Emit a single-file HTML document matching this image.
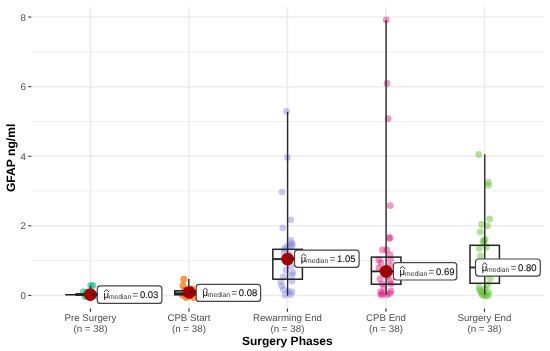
<!DOCTYPE html><html><head><meta charset="utf-8"><style>html,body{margin:0;padding:0;background:#fff;}svg{display:block;will-change:transform;}text{font-family:"Liberation Sans",sans-serif;text-rendering:geometricPrecision;}</style></head><body>
<svg width="550" height="351" viewBox="0 0 550 351">
<rect width="550" height="351" fill="#fff"/>
<line x1="31.5" x2="544.0" y1="260.61" y2="260.61" stroke="#F0F0F0" stroke-width="1.1"/>
<line x1="31.5" x2="544.0" y1="191.03" y2="191.03" stroke="#F0F0F0" stroke-width="1.1"/>
<line x1="31.5" x2="544.0" y1="121.45" y2="121.45" stroke="#F0F0F0" stroke-width="1.1"/>
<line x1="31.5" x2="544.0" y1="51.87" y2="51.87" stroke="#F0F0F0" stroke-width="1.1"/>
<line x1="31.5" x2="544.0" y1="295.40" y2="295.40" stroke="#ECECEC" stroke-width="1.5"/>
<line x1="31.5" x2="544.0" y1="225.82" y2="225.82" stroke="#ECECEC" stroke-width="1.5"/>
<line x1="31.5" x2="544.0" y1="156.24" y2="156.24" stroke="#ECECEC" stroke-width="1.5"/>
<line x1="31.5" x2="544.0" y1="86.66" y2="86.66" stroke="#ECECEC" stroke-width="1.5"/>
<line x1="31.5" x2="544.0" y1="17.08" y2="17.08" stroke="#ECECEC" stroke-width="1.5"/>
<line x1="90.45" x2="90.45" y1="6.9" y2="308.6" stroke="#ECECEC" stroke-width="1.5"/>
<line x1="188.95" x2="188.95" y1="6.9" y2="308.6" stroke="#ECECEC" stroke-width="1.5"/>
<line x1="287.45" x2="287.45" y1="6.9" y2="308.6" stroke="#ECECEC" stroke-width="1.5"/>
<line x1="385.95" x2="385.95" y1="6.9" y2="308.6" stroke="#ECECEC" stroke-width="1.5"/>
<line x1="484.45" x2="484.45" y1="6.9" y2="308.6" stroke="#ECECEC" stroke-width="1.5"/>
<line x1="28.3" x2="31.3" y1="295.40" y2="295.40" stroke="#333" stroke-width="1.1"/>
<text x="25.8" y="298.90" font-size="9.7" fill="#4D4D4D" text-anchor="end">0</text>
<line x1="28.3" x2="31.3" y1="225.82" y2="225.82" stroke="#333" stroke-width="1.1"/>
<text x="25.8" y="229.32" font-size="9.7" fill="#4D4D4D" text-anchor="end">2</text>
<line x1="28.3" x2="31.3" y1="156.24" y2="156.24" stroke="#333" stroke-width="1.1"/>
<text x="25.8" y="159.74" font-size="9.7" fill="#4D4D4D" text-anchor="end">4</text>
<line x1="28.3" x2="31.3" y1="86.66" y2="86.66" stroke="#333" stroke-width="1.1"/>
<text x="25.8" y="90.16" font-size="9.7" fill="#4D4D4D" text-anchor="end">6</text>
<line x1="28.3" x2="31.3" y1="17.08" y2="17.08" stroke="#333" stroke-width="1.1"/>
<text x="25.8" y="20.58" font-size="9.7" fill="#4D4D4D" text-anchor="end">8</text>
<line x1="90.45" x2="90.45" y1="308.6" y2="311.8" stroke="#333" stroke-width="1.2"/>
<text x="90.45" y="320.9" font-size="9.7" fill="#4D4D4D" text-anchor="middle">Pre Surgery</text>
<text x="90.45" y="331.9" font-size="9.8" fill="#4D4D4D" text-anchor="middle">(n = 38)</text>
<line x1="188.95" x2="188.95" y1="308.6" y2="311.8" stroke="#333" stroke-width="1.2"/>
<text x="188.95" y="320.9" font-size="9.7" fill="#4D4D4D" text-anchor="middle">CPB Start</text>
<text x="188.95" y="331.9" font-size="9.8" fill="#4D4D4D" text-anchor="middle">(n = 38)</text>
<line x1="287.45" x2="287.45" y1="308.6" y2="311.8" stroke="#333" stroke-width="1.2"/>
<text x="287.45" y="320.9" font-size="9.7" fill="#4D4D4D" text-anchor="middle">Rewarming End</text>
<text x="287.45" y="331.9" font-size="9.8" fill="#4D4D4D" text-anchor="middle">(n = 38)</text>
<line x1="385.95" x2="385.95" y1="308.6" y2="311.8" stroke="#333" stroke-width="1.2"/>
<text x="385.95" y="320.9" font-size="9.7" fill="#4D4D4D" text-anchor="middle">CPB End</text>
<text x="385.95" y="331.9" font-size="9.8" fill="#4D4D4D" text-anchor="middle">(n = 38)</text>
<line x1="484.45" x2="484.45" y1="308.6" y2="311.8" stroke="#333" stroke-width="1.2"/>
<text x="484.45" y="320.9" font-size="9.7" fill="#4D4D4D" text-anchor="middle">Surgery End</text>
<text x="484.45" y="331.9" font-size="9.8" fill="#4D4D4D" text-anchor="middle">(n = 38)</text>
<text x="287.3" y="344.6" font-size="12" font-weight="bold" fill="#000" text-anchor="middle">Surgery Phases</text>
<text transform="translate(14.9,157.9) rotate(-90)" font-size="12.1" font-weight="bold" fill="#000" text-anchor="middle">GFAP ng/ml</text>
<line x1="65.1" x2="116" y1="294.8" y2="294.8" stroke="#222" stroke-width="1.6"/>
<circle cx="90.8" cy="285.3" r="3.4" fill="#00C08A" fill-opacity="0.6"/>
<circle cx="93.0" cy="285.6" r="3.4" fill="#00C08A" fill-opacity="0.6"/>
<circle cx="83.4" cy="291.7" r="3.4" fill="#00C08A" fill-opacity="0.6"/>
<circle cx="96.4" cy="295.8" r="3.4" fill="#00C08A" fill-opacity="0.6"/>
<circle cx="86" cy="295" r="3.4" fill="#00C08A" fill-opacity="0.6"/>
<circle cx="92" cy="296" r="3.4" fill="#00C08A" fill-opacity="0.6"/>
<circle cx="88" cy="294" r="3.4" fill="#00C08A" fill-opacity="0.6"/>
<circle cx="85" cy="296.5" r="3.4" fill="#00C08A" fill-opacity="0.6"/>
<circle cx="94" cy="294.5" r="3.4" fill="#00C08A" fill-opacity="0.6"/>
<circle cx="89" cy="296" r="3.4" fill="#00C08A" fill-opacity="0.6"/>
<circle cx="91" cy="293" r="3.4" fill="#00C08A" fill-opacity="0.6"/>
<circle cx="87" cy="292.5" r="3.4" fill="#00C08A" fill-opacity="0.6"/>
<circle cx="183.7" cy="279.2" r="3.4" fill="#FF6A00" fill-opacity="0.72"/>
<circle cx="183.0" cy="285.5" r="3.4" fill="#FF6A00" fill-opacity="0.72"/>
<circle cx="184.5" cy="290.5" r="3.4" fill="#FF6A00" fill-opacity="0.72"/>
<circle cx="186" cy="297.5" r="3.4" fill="#FF6A00" fill-opacity="0.72"/>
<circle cx="193.5" cy="297.5" r="3.4" fill="#FF6A00" fill-opacity="0.72"/>
<circle cx="195" cy="293" r="3.4" fill="#FF6A00" fill-opacity="0.72"/>
<circle cx="182.5" cy="295" r="3.4" fill="#FF6A00" fill-opacity="0.72"/>
<circle cx="190" cy="296" r="3.4" fill="#FF6A00" fill-opacity="0.72"/>
<circle cx="187" cy="293.5" r="3.4" fill="#FF6A00" fill-opacity="0.72"/>
<circle cx="192" cy="289" r="3.4" fill="#FF6A00" fill-opacity="0.72"/>
<circle cx="185" cy="293" r="3.4" fill="#FF6A00" fill-opacity="0.72"/>
<circle cx="286.5" cy="111.4" r="3.4" fill="#7C7CE0" fill-opacity="0.42"/>
<circle cx="287.5" cy="157.4" r="3.4" fill="#7C7CE0" fill-opacity="0.42"/>
<circle cx="282.1" cy="192.1" r="3.4" fill="#7C7CE0" fill-opacity="0.42"/>
<circle cx="290.8" cy="219.8" r="3.4" fill="#7C7CE0" fill-opacity="0.42"/>
<circle cx="282.8" cy="227.8" r="3.4" fill="#7C7CE0" fill-opacity="0.42"/>
<circle cx="290.8" cy="240.3" r="3.4" fill="#7C7CE0" fill-opacity="0.42"/>
<circle cx="292.4" cy="245.3" r="3.4" fill="#7C7CE0" fill-opacity="0.42"/>
<circle cx="286.7" cy="246.5" r="3.4" fill="#7C7CE0" fill-opacity="0.42"/>
<circle cx="284.4" cy="248.8" r="3.4" fill="#7C7CE0" fill-opacity="0.42"/>
<circle cx="292.0" cy="243.4" r="3.4" fill="#7C7CE0" fill-opacity="0.42"/>
<circle cx="290.2" cy="246.0" r="3.4" fill="#7C7CE0" fill-opacity="0.42"/>
<circle cx="286.0" cy="270.0" r="3.4" fill="#7C7CE0" fill-opacity="0.42"/>
<circle cx="292.8" cy="272.5" r="3.4" fill="#7C7CE0" fill-opacity="0.42"/>
<circle cx="292.0" cy="275.0" r="3.4" fill="#7C7CE0" fill-opacity="0.42"/>
<circle cx="283.4" cy="276.8" r="3.4" fill="#7C7CE0" fill-opacity="0.42"/>
<circle cx="280.8" cy="281.9" r="3.4" fill="#7C7CE0" fill-opacity="0.42"/>
<circle cx="292.0" cy="281.0" r="3.4" fill="#7C7CE0" fill-opacity="0.42"/>
<circle cx="281.7" cy="286.0" r="3.4" fill="#7C7CE0" fill-opacity="0.42"/>
<circle cx="283.4" cy="289.6" r="3.4" fill="#7C7CE0" fill-opacity="0.42"/>
<circle cx="288.5" cy="291.3" r="3.4" fill="#7C7CE0" fill-opacity="0.42"/>
<circle cx="292.0" cy="292.0" r="3.4" fill="#7C7CE0" fill-opacity="0.42"/>
<circle cx="290.2" cy="294.7" r="3.4" fill="#7C7CE0" fill-opacity="0.42"/>
<circle cx="286" cy="262" r="3.4" fill="#7C7CE0" fill-opacity="0.42"/>
<circle cx="289" cy="254" r="3.4" fill="#7C7CE0" fill-opacity="0.42"/>
<circle cx="284" cy="253" r="3.4" fill="#7C7CE0" fill-opacity="0.42"/>
<circle cx="291" cy="266" r="3.4" fill="#7C7CE0" fill-opacity="0.42"/>
<circle cx="285" cy="295" r="3.4" fill="#7C7CE0" fill-opacity="0.42"/>
<circle cx="386.2" cy="19.9" r="3.4" fill="#ED0077" fill-opacity="0.42"/>
<circle cx="387.0" cy="83.5" r="3.4" fill="#ED0077" fill-opacity="0.42"/>
<circle cx="388.1" cy="118.7" r="3.4" fill="#ED0077" fill-opacity="0.42"/>
<circle cx="390.1" cy="205.6" r="3.4" fill="#ED0077" fill-opacity="0.42"/>
<circle cx="389.7" cy="237.4" r="3.4" fill="#ED0077" fill-opacity="0.42"/>
<circle cx="389.3" cy="238.4" r="3.4" fill="#ED0077" fill-opacity="0.42"/>
<circle cx="382.5" cy="249.9" r="3.4" fill="#ED0077" fill-opacity="0.42"/>
<circle cx="386.9" cy="249.9" r="3.4" fill="#ED0077" fill-opacity="0.42"/>
<circle cx="389.9" cy="254.9" r="3.4" fill="#ED0077" fill-opacity="0.42"/>
<circle cx="378.9" cy="259.9" r="3.4" fill="#ED0077" fill-opacity="0.42"/>
<circle cx="380.9" cy="262.9" r="3.4" fill="#ED0077" fill-opacity="0.42"/>
<circle cx="390.5" cy="259.9" r="3.4" fill="#ED0077" fill-opacity="0.42"/>
<circle cx="389.9" cy="265.9" r="3.4" fill="#ED0077" fill-opacity="0.42"/>
<circle cx="379.9" cy="278.8" r="3.4" fill="#ED0077" fill-opacity="0.42"/>
<circle cx="389.9" cy="280.8" r="3.4" fill="#ED0077" fill-opacity="0.42"/>
<circle cx="390.9" cy="283.8" r="3.4" fill="#ED0077" fill-opacity="0.42"/>
<circle cx="381.9" cy="283.8" r="3.4" fill="#ED0077" fill-opacity="0.42"/>
<circle cx="380.5" cy="291.8" r="3.4" fill="#ED0077" fill-opacity="0.42"/>
<circle cx="382.5" cy="293.7" r="3.4" fill="#ED0077" fill-opacity="0.42"/>
<circle cx="386.9" cy="294.7" r="3.4" fill="#ED0077" fill-opacity="0.42"/>
<circle cx="389.9" cy="293.3" r="3.4" fill="#ED0077" fill-opacity="0.42"/>
<circle cx="383" cy="270" r="3.4" fill="#ED0077" fill-opacity="0.42"/>
<circle cx="379" cy="268" r="3.4" fill="#ED0077" fill-opacity="0.42"/>
<circle cx="391" cy="272" r="3.4" fill="#ED0077" fill-opacity="0.42"/>
<circle cx="384" cy="288" r="3.4" fill="#ED0077" fill-opacity="0.42"/>
<circle cx="388" cy="276" r="3.4" fill="#ED0077" fill-opacity="0.42"/>
<circle cx="381" cy="295" r="3.4" fill="#ED0077" fill-opacity="0.42"/>
<circle cx="391" cy="291" r="3.4" fill="#ED0077" fill-opacity="0.42"/>
<circle cx="478.8" cy="154.5" r="3.4" fill="#52BF1C" fill-opacity="0.45"/>
<circle cx="488.3" cy="182.3" r="3.4" fill="#52BF1C" fill-opacity="0.45"/>
<circle cx="488.3" cy="185.3" r="3.4" fill="#52BF1C" fill-opacity="0.45"/>
<circle cx="489.6" cy="218.8" r="3.4" fill="#52BF1C" fill-opacity="0.45"/>
<circle cx="481.7" cy="224.5" r="3.4" fill="#52BF1C" fill-opacity="0.45"/>
<circle cx="487.4" cy="225.7" r="3.4" fill="#52BF1C" fill-opacity="0.45"/>
<circle cx="480.3" cy="231.9" r="3.4" fill="#52BF1C" fill-opacity="0.45"/>
<circle cx="485.1" cy="239.3" r="3.4" fill="#52BF1C" fill-opacity="0.45"/>
<circle cx="484.0" cy="242.2" r="3.4" fill="#52BF1C" fill-opacity="0.45"/>
<circle cx="483.0" cy="241.0" r="3.4" fill="#52BF1C" fill-opacity="0.45"/>
<circle cx="479.4" cy="248.4" r="3.4" fill="#52BF1C" fill-opacity="0.45"/>
<circle cx="486.5" cy="247.0" r="3.4" fill="#52BF1C" fill-opacity="0.45"/>
<circle cx="480.5" cy="256.0" r="3.4" fill="#52BF1C" fill-opacity="0.45"/>
<circle cx="490.0" cy="278.7" r="3.4" fill="#52BF1C" fill-opacity="0.45"/>
<circle cx="479.0" cy="287.4" r="3.4" fill="#52BF1C" fill-opacity="0.45"/>
<circle cx="487.6" cy="285.0" r="3.4" fill="#52BF1C" fill-opacity="0.45"/>
<circle cx="481.3" cy="292.0" r="3.4" fill="#52BF1C" fill-opacity="0.45"/>
<circle cx="488.4" cy="292.0" r="3.4" fill="#52BF1C" fill-opacity="0.45"/>
<circle cx="483.7" cy="295.2" r="3.4" fill="#52BF1C" fill-opacity="0.45"/>
<circle cx="479.8" cy="290.5" r="3.4" fill="#52BF1C" fill-opacity="0.45"/>
<circle cx="488.4" cy="295.2" r="3.4" fill="#52BF1C" fill-opacity="0.45"/>
<circle cx="485.0" cy="289.0" r="3.4" fill="#52BF1C" fill-opacity="0.45"/>
<circle cx="482.0" cy="294.5" r="3.4" fill="#52BF1C" fill-opacity="0.45"/>
<circle cx="486.0" cy="296.0" r="3.4" fill="#52BF1C" fill-opacity="0.45"/>
<line x1="90.4" x2="90.4" y1="285.8" y2="296.0" stroke="#2a2a2a" stroke-width="1.4"/>
<rect x="76.10" y="293.9" width="29.40" height="1.20" fill="#bbb" stroke="#222" stroke-width="1.5"/>
<line x1="76.10" x2="105.50" y1="294.6" y2="294.6" stroke="#222" stroke-width="1.8"/>
<line x1="188.8" x2="188.8" y1="279.0" y2="296.0" stroke="#2a2a2a" stroke-width="1.4"/>
<rect x="174.75" y="290.8" width="29.45" height="4.00" fill="#bbb" stroke="#222" stroke-width="1.5"/>
<line x1="174.75" x2="204.20" y1="293.3" y2="293.3" stroke="#222" stroke-width="1.8"/>
<line x1="287.6" x2="287.6" y1="111.8" y2="295.8" stroke="#2a2a2a" stroke-width="1.4"/>
<rect x="272.85" y="249.3" width="29.55" height="29.90" fill="none" stroke="#222" stroke-width="1.5"/>
<line x1="272.85" x2="302.40" y1="259.05" y2="259.05" stroke="#222" stroke-width="1.8"/>
<line x1="386.1" x2="386.1" y1="19.9" y2="295.0" stroke="#2a2a2a" stroke-width="1.4"/>
<rect x="371.40" y="257.1" width="29.55" height="27.10" fill="none" stroke="#222" stroke-width="1.5"/>
<line x1="371.40" x2="400.95" y1="271.4" y2="271.4" stroke="#222" stroke-width="1.8"/>
<line x1="484.75" x2="484.75" y1="154.2" y2="294.5" stroke="#2a2a2a" stroke-width="1.4"/>
<rect x="470.00" y="245.3" width="29.40" height="38.00" fill="none" stroke="#222" stroke-width="1.5"/>
<line x1="470.00" x2="499.40" y1="267.5" y2="267.5" stroke="#222" stroke-width="1.8"/>
<circle cx="90.25" cy="294.55" r="6.35" fill="#A50000"/>
<circle cx="189.15" cy="292.35" r="6.35" fill="#A50000"/>
<circle cx="287.6" cy="259.05" r="6.35" fill="#A50000"/>
<circle cx="386.1" cy="271.4" r="6.35" fill="#A50000"/>
<circle cx="484.9" cy="267.5" r="6.35" fill="#A50000"/>
<line x1="91.5" x2="93.8" y1="294.55" y2="294.55" stroke="#000" stroke-width="1.5"/>
<line x1="96.2" x2="97.3" y1="294.55" y2="294.55" stroke="#000" stroke-width="1.5"/>
<line x1="190.3" x2="192.8" y1="292.35" y2="292.35" stroke="#000" stroke-width="1.5"/>
<line x1="195.1" x2="196.2" y1="292.35" y2="292.35" stroke="#000" stroke-width="1.5"/>
<line x1="288.8" x2="291.2" y1="259.05" y2="259.05" stroke="#000" stroke-width="1.5"/>
<line x1="293.5" x2="294.5" y1="259.05" y2="259.05" stroke="#000" stroke-width="1.5"/>
<line x1="387.3" x2="389.7" y1="271.4" y2="271.4" stroke="#000" stroke-width="1.5"/>
<line x1="392.0" x2="393.4" y1="271.4" y2="271.4" stroke="#000" stroke-width="1.5"/>
<rect x="97.3" y="285.9" width="64.6" height="17.5" rx="3" ry="3" fill="#fff" stroke="#444" stroke-width="1.2"/>
<text x="103.5" y="298.0" font-size="9.5" fill="#111" stroke="#111" stroke-width="0.12">μ</text>
<text x="108.9" y="299.0" font-size="6.8" fill="#333">median</text>
<text x="132.5" y="298.0" font-size="9.5" fill="#444">=</text>
<text x="139.9" y="298.0" font-size="9.5" fill="#111" stroke="#111" stroke-width="0.12">0.03</text>
<path d="M103.9 292.1 L106.5 289.7 L109.1 292.1" fill="none" stroke="#1a1a1a" stroke-width="0.9"/>
<rect x="196.2" y="284.4" width="64.4" height="17.0" rx="3" ry="3" fill="#fff" stroke="#444" stroke-width="1.2"/>
<text x="202.4" y="296.3" font-size="9.5" fill="#111" stroke="#111" stroke-width="0.12">μ</text>
<text x="207.8" y="297.3" font-size="6.8" fill="#333">median</text>
<text x="231.4" y="296.3" font-size="9.5" fill="#444">=</text>
<text x="238.8" y="296.3" font-size="9.5" fill="#111" stroke="#111" stroke-width="0.12">0.08</text>
<path d="M202.8 290.6 L205.4 288.2 L208.0 290.6" fill="none" stroke="#1a1a1a" stroke-width="0.9"/>
<rect x="294.5" y="250.1" width="64.6" height="17.2" rx="3" ry="3" fill="#fff" stroke="#444" stroke-width="1.2"/>
<text x="300.7" y="262.1" font-size="9.5" fill="#111" stroke="#111" stroke-width="0.12">μ</text>
<text x="306.1" y="263.1" font-size="6.8" fill="#333">median</text>
<text x="329.7" y="262.1" font-size="9.5" fill="#444">=</text>
<text x="337.1" y="262.1" font-size="9.5" fill="#111" stroke="#111" stroke-width="0.12">1.05</text>
<path d="M301.1 256.3 L303.7 253.9 L306.3 256.3" fill="none" stroke="#1a1a1a" stroke-width="0.9"/>
<rect x="393.4" y="262.6" width="63.4" height="17.4" rx="3" ry="3" fill="#fff" stroke="#444" stroke-width="1.2"/>
<text x="399.6" y="274.7" font-size="9.5" fill="#111" stroke="#111" stroke-width="0.12">μ</text>
<text x="405.0" y="275.7" font-size="6.8" fill="#333">median</text>
<text x="428.6" y="274.7" font-size="9.5" fill="#444">=</text>
<text x="436.0" y="274.7" font-size="9.5" fill="#111" stroke="#111" stroke-width="0.12">0.69</text>
<path d="M400.0 268.8 L402.6 266.4 L405.2 268.8" fill="none" stroke="#1a1a1a" stroke-width="0.9"/>
<rect x="475.5" y="259.0" width="64.8" height="17.1" rx="3" ry="3" fill="#fff" stroke="#444" stroke-width="1.2"/>
<text x="481.7" y="270.9" font-size="9.5" fill="#111" stroke="#111" stroke-width="0.12">μ</text>
<text x="487.1" y="271.9" font-size="6.8" fill="#333">median</text>
<text x="510.7" y="270.9" font-size="9.5" fill="#444">=</text>
<text x="518.1" y="270.9" font-size="9.5" fill="#111" stroke="#111" stroke-width="0.12">0.80</text>
<path d="M482.1 265.2 L484.7 262.8 L487.3 265.2" fill="none" stroke="#1a1a1a" stroke-width="0.9"/>
</svg></body></html>
